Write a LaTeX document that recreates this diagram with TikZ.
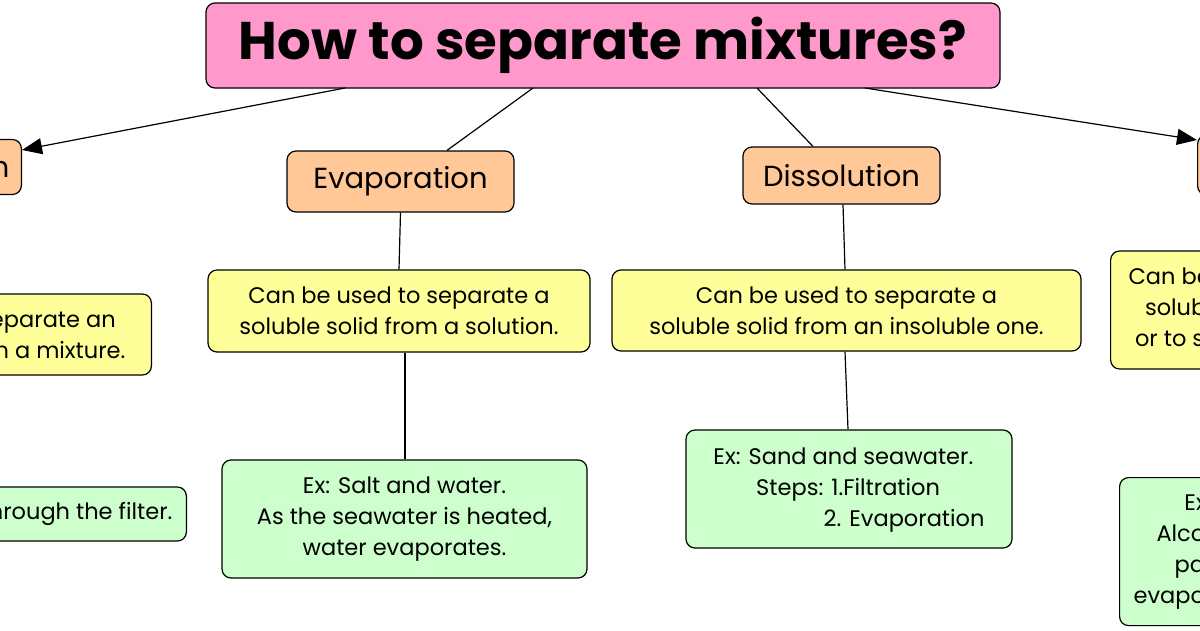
\documentclass[tikz,border=0pt]{standalone}
\usepackage{fontspec}
\setmainfont{Poppins}
\usetikzlibrary{arrows.meta}
\definecolor{pinkc}{HTML}{FF99CC}
\definecolor{orangec}{HTML}{FFC896}
\definecolor{yellowc}{HTML}{FFFF99}
\definecolor{greenc}{HTML}{CCFFCC}
\tikzset{
 box/.style={draw=black, line width=1.2pt, rounded corners=9pt, inner sep=0pt, align=center},
 title/.style={box, fill=pinkc, font=\fontsize{53}{60}\selectfont\bfseries},
 method/.style={box, fill=orangec, font=\fontsize{29}{34}\selectfont},
 use/.style={box, fill=yellowc, font=\fontsize{22.5}{31}\selectfont},
 example/.style={box, fill=greenc, font=\fontsize{22.5}{31}\selectfont},
 link/.style={line width=1.2pt},
 arrowlink/.style={line width=1.2pt, -{Triangle[length=20pt,width=16pt]}}
}
\begin{document}
\begin{tikzpicture}[x=1pt,y=-1pt]
\path[use as bounding box] (0,0) rectangle (1200,630);
\clip (0,0) rectangle (1200,630);
\node[title, minimum width=794, minimum height=85] (t) at (603,45.5) {How to separate mixtures?};
\node[method, anchor=east, minimum height=55, inner xsep=12pt] (fm) at (22,167) {Filtration};
\node[method, minimum width=227, minimum height=61] (em) at (400.5,181.5) {Evaporation};
\node[method, minimum width=197, minimum height=57] (dm) at (841.5,175.5) {Dissolution};
\node[method, anchor=west, minimum height=60, inner xsep=14pt] (rm) at (1197,165) {Distillation};
\node[use, anchor=east, minimum height=81, inner xsep=26pt] (fu) at (152,334.5) {Can be used to separate an\\insoluble solid from a mixture.};
\node[use, minimum width=382, minimum height=82] (eu) at (399,311) {Can be used to separate a\\soluble solid from a solution.};
\node[use, minimum width=469, minimum height=81] (du) at (846.5,310.5) {Can be used to separate a\\soluble solid from an insoluble one.};
\node[use, anchor=west, minimum height=118, inner xsep=18pt] (ru) at (1110,310) {Can be used to\\soluble solid\\or to separate};
\node[example, anchor=east, minimum height=54, inner xsep=14pt] (fe) at (187,514) {Water passes through the filter.};
\node[example, minimum width=365, minimum height=118] (ee) at (404.5,519) {Ex: Salt and water.\\As the seawater is heated,\\water evaporates.};
\node[example, minimum width=326, minimum height=118] (de) at (849,489) {\begin{tabular}{@{}l@{}}Ex: Sand and seawater.\\\hspace{1.9em}Steps: 1.Filtration\\\hspace{4.9em}2. Evaporation\end{tabular}};
\node[example, anchor=north west, minimum height=148, inner xsep=14pt] (re) at (1119,477) {Ex:\\Alcohol\\part\\evaporates};
\coordinate (t1) at (345,88);
\coordinate (t2) at (533,88);
\coordinate (t3) at (757,88);
\coordinate (t4) at (865,88);
\draw[arrowlink] (t1) -- (fm.north east |- 0,150) ;
\draw[link] (t2) -- (em.north -| 447,0);
\draw[link] (t3) -- (dm.north -| 813,0);
\draw[arrowlink] (t4) -- (rm.north west |- 0,140);
\draw[link] (em.south) -- (eu.north);
\draw[link] (eu.south -| 405,0) -- (ee.north -| 405,0);
\draw[link] (dm.south -| 843,0) -- (du.north -| 845,0);
\draw[link] (du.south -| 845,0) -- (de.north -| 848,0);
\end{tikzpicture}
\end{document}
